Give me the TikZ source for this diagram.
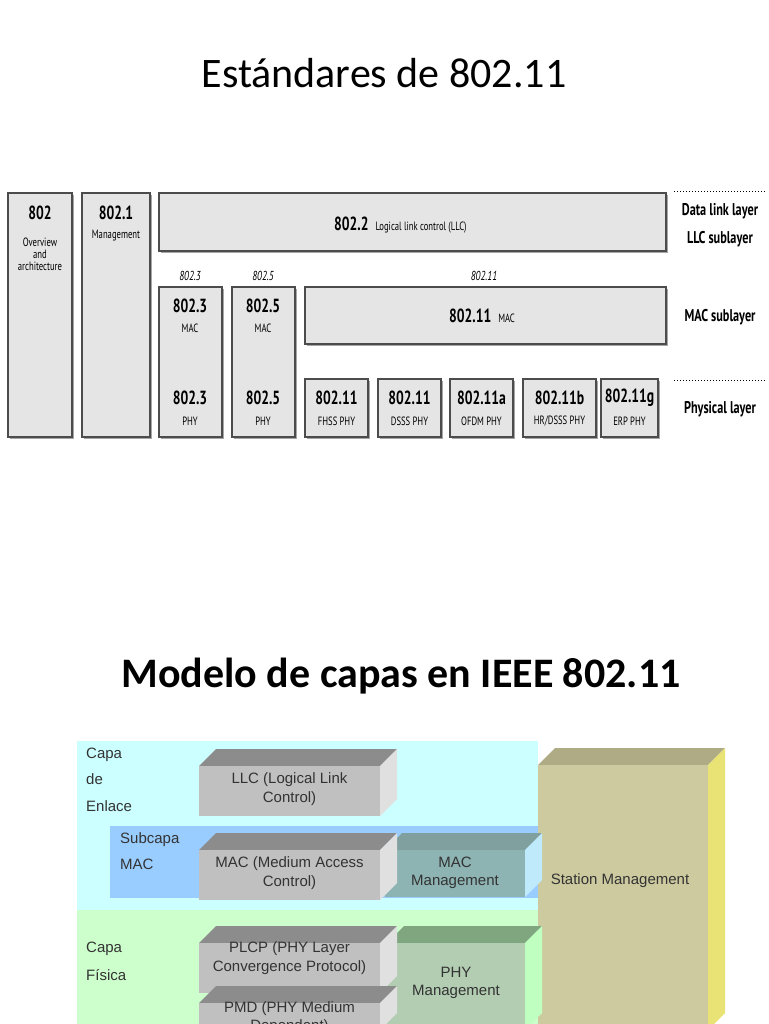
\documentclass[tikz,border=0pt]{standalone}
\usepackage{fontspec}
\setmainfont{Liberation Sans}
\newfontfamily\carfont{Carlito}
\newfontfamily\cond[FakeStretch=0.72]{PT Sans}
\newfontfamily\condb[FakeStretch=0.72]{PT Sans Bold}
\definecolor{bgcyan}{HTML}{CCFFFF}
\definecolor{bgblue}{HTML}{99CCFF}
\definecolor{bggreen}{HTML}{CCFFCC}
\definecolor{gfront}{HTML}{C0C0C0}
\definecolor{gtop}{HTML}{8C8C8C}
\definecolor{gside}{HTML}{E0E0E0}
\begin{document}
\begin{tikzpicture}[x=1pt,y=-1pt,
 gbox/.style={draw=black!70,fill=black!10,line width=1.1pt},
 shd/.style={fill=black!35},
 lab/.style={font=\cond\fontsize{12}{12}\selectfont,inner sep=0pt},
 num/.style={font=\condb\fontsize{19}{20}\selectfont,inner sep=0pt},
 itl/.style={font=\cond\itshape\fontsize{13}{14}\selectfont,inner sep=0pt},
 side/.style={font=\condb\fontsize{17}{18}\selectfont,inner sep=0pt},
 btxt/.style={font=\fontsize{15}{18.5}\selectfont,align=center,inner sep=0pt,text=black!80},
 ltxt/.style={font=\fontsize{15}{18}\selectfont,anchor=west,inner sep=0pt,text=black!80}]
\useasboundingbox (0,0) rectangle (768,1024);
\fill[white] (0,0) rectangle (768,1024);
\node[font=\carfont\fontsize{42}{46}\selectfont] (t1) at (384,73) {Estándares de 802.11};
\node[font=\carfont\bfseries\fontsize{42}{46}\selectfont] (t2) at (401,676) {Modelo de capas en IEEE 802.11};
% top diagram boxes
\foreach \n/\a/\b/\c/\d in {b802/8/193/72/437, b8021/82/193/150/437, llc/159/193/666/251, m3/159/287/222/437, m5/232/287/295/437, mac11/305/287/666/344, p1/305/379/368/437, p2/378/379/441/437, p3/450/379/513/437, p4/523/379/596/437, p5/601/379/658/437}{
 \fill[shd] (\a+2,\b+2) rectangle (\c+2,\d+2);
 \draw[gbox] (\a,\b) rectangle (\c,\d);
 \coordinate (\n) at (\a,\b);}
\node[num] (n802) at (40,213) {802};
\node[lab,align=center] (o802) at (40,254) {Overview\\and\\architecture};
\node[num] (n8021) at (116,213) {802.1};
\node[lab] (mg) at (116,236) {Management};
\node[anchor=west,inner sep=0pt] (llct) at (334,225) {\condb\fontsize{19}{20}\selectfont 802.2\ \ \cond\fontsize{12}{12}\selectfont Logical link control (LLC)};
\node[itl] (i3) at (190,276) {802.3};
\node[itl] (i5) at (263,276) {802.5};
\node[itl] (i11) at (484,276) {802.11};
\node[num] (a3) at (190,306) {802.3}; \node[lab] (a3b) at (190,328) {MAC};
\node[num] (a5) at (263,306) {802.5}; \node[lab] (a5b) at (263,328) {MAC};
\node[num] (c3) at (190,398) {802.3}; \node[lab] (c3b) at (190,421) {PHY};
\node[num] (c5) at (263,398) {802.5}; \node[lab] (c5b) at (263,421) {PHY};
\node[anchor=west,inner sep=0pt] (mt) at (449,316) {\condb\fontsize{19}{20}\selectfont 802.11\ \ \cond\fontsize{12}{12}\selectfont MAC};
\foreach \n/\x/\t/\s in {q1/336.5/802.11/{FHSS PHY}, q2/409.5/802.11/{DSSS PHY}, q3/481.5/802.11a/{OFDM PHY}, q4/559.5/802.11b/{HR/DSSS PHY}, q5/629.5/802.11g/{ERP PHY}}{
 \node[num] (\n) at (\x,398) {\t};
 \node[lab] (\n s) at (\x,421) {\s};}
\draw[dotted,line width=1pt] (674,192) -- (766,192);
\draw[dotted,line width=1pt] (674,380) -- (766,380);
\node[side] (s1) at (720,211) {Data link layer};
\node[side] (s2) at (720,239) {LLC sublayer};
\node[side] (s3) at (720,317) {MAC sublayer};
\node[side] (s4) at (720,409) {Physical layer};
% bottom diagram
\fill[bgcyan] (77,741) rectangle (538,910);
\fill[bgblue] (110,826) rectangle (538,898);
\fill[bggreen] (77,910) rectangle (538,1024);
\newcommand\myblk[8]{% x1 y1 x2 y2 front top side name
 \fill[#6] (#1,#2) -- (#1+17,#2-17) -- (#3+17,#2-17) -- (#3,#2) -- cycle;
 \fill[#7] (#3,#2) -- (#3+17,#2-17) -- (#3+17,#4-17) -- (#3,#4) -- cycle;
 \fill[#5] (#1,#2) rectangle (#3,#4);
 \coordinate (#8) at (#1,#2);}
\myblk{538}{765}{708}{1030}{yellow!50!black!45!white}{yellow!40!black!60!white}{yellow!55!white!90!black}{stm}
\myblk{385}{850}{525}{897}{teal!35!white!85!black}{teal!50!black!50!white}{cyan!25}{macm}
\myblk{387}{943}{525}{1030}{green!35!black!30!white}{green!30!black!50!white}{green!25}{phym}
\myblk{199}{766}{380}{816}{gfront}{gtop}{gside}{llcb}
\myblk{199}{850}{380}{900}{gfront}{gtop}{gside}{macb}
\myblk{199}{943}{380}{993}{gfront}{gtop}{gside}{plcp}
\myblk{199}{1003}{380}{1030}{gfront}{gtop}{gside}{pmd}
\node[btxt] (tl) at (289.5,789) {LLC (Logical Link\\Control)};
\node[btxt] (tm) at (289.5,873) {MAC (Medium Access\\Control)};
\node[btxt] (tmm) at (455,873) {MAC\\Management};
\node[btxt] (tp) at (289.5,958) {PLCP (PHY Layer\\Convergence Protocol)};
\node[btxt,anchor=north] (tpm) at (289.5,1001) {PMD (PHY Medium\\Dependent)};
\node[btxt] (tphy) at (456,983) {PHY\\Management};
\node[btxt] (tst) at (620,881) {Station Management};
\node[ltxt] (l1) at (86,755) {Capa};
\node[ltxt] (l2) at (86,779) {de};
\node[ltxt] (l3) at (86,806) {Enlace};
\node[ltxt] (l4) at (120,840) {Subcapa};
\node[ltxt] (l5) at (120,864) {MAC};
\node[ltxt] (l6) at (86,949) {Capa};
\node[ltxt] (l7) at (86,975) {Física};
\end{tikzpicture}
\end{document}
